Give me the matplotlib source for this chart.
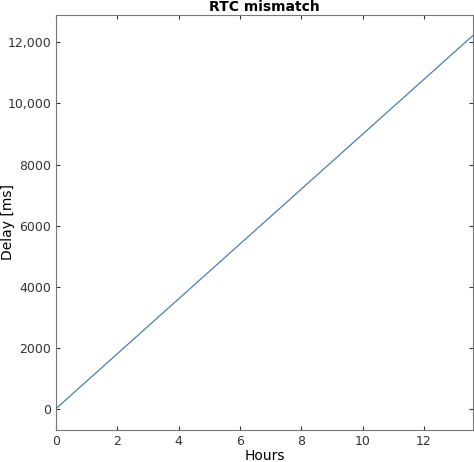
import matplotlib
matplotlib.use("Agg")
import matplotlib.pyplot as plt
from matplotlib.ticker import FuncFormatter

hours = [0, 13.6]
delay_ms = [0, 12230]

fig = plt.figure(figsize=(4.74, 4.62), dpi=100)
ax = fig.add_axes([56 / 474, 32 / 462, 417 / 474, 415 / 462])
ax.plot(hours, delay_ms, color="#4a7fb5", linewidth=0.9)

ax.set_xlim(0, 13.6)
ax.set_ylim(-700, 12900)
ax.set_xticks(range(0, 13, 2))
ax.set_yticks(range(0, 12001, 2000))
ax.yaxis.set_major_formatter(FuncFormatter(
    lambda v, p: f"{int(v):,}" if v >= 10000 else f"{int(v)}"))
ax.tick_params(direction="in", top=True, right=True, labelsize=9, length=3, colors="#333333")
for s in ax.spines.values():
    s.set_color("#777777")

ax.set_xlabel("Hours", fontsize=10, labelpad=1)
ax.set_ylabel("Delay [ms]", fontsize=10)
ax.yaxis.set_label_coords(-0.098, 0.5)
ax.set_title("RTC mismatch", fontsize=10, fontweight="bold", pad=3)

fig.savefig("out.png", dpi=100)
